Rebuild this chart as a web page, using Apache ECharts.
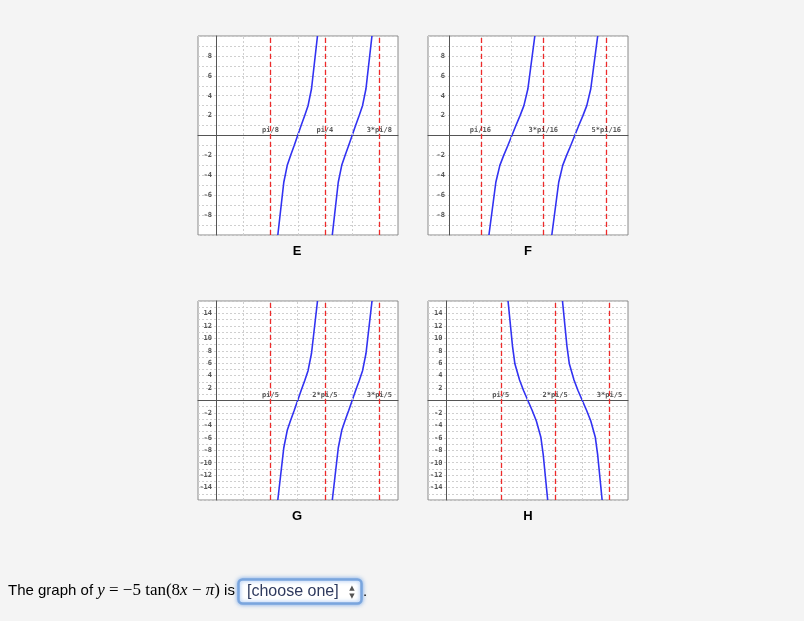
<!DOCTYPE html>
<html>
<head>
<meta charset="utf-8">
<script src="https://cdn.jsdelivr.net/npm/echarts@6.0.0/dist/echarts.min.js"></script>
<style>
html,body{margin:0;padding:0;background:#f4f4f4;}
#c{width:804px;height:621px;}
</style>
</head>
<body>
<div id="c"></div>
<script>
// ---------------- data ----------------
const PI = Math.PI;
// panel E
const E_b1_x = [0.446, 0.489, 0.514, 0.538, 0.564, 0.589, 0.614, 0.640, 0.664, 0.689, 0.732];
const E_b1_y = [-10, -4.7, -3, -2, -1, 0, 1, 2, 3, 4.7, 10];
const E_b2_x = [0.839, 0.882, 0.907, 0.931, 0.957, 0.982, 1.007, 1.033, 1.057, 1.082, 1.125];
const E_b2_y = [-10, -4.7, -3, -2, -1, 0, 1, 2, 3, 4.7, 10];
// panel F
const F_b1_x = [0.250, 0.293, 0.318, 0.342, 0.368, 0.393, 0.418, 0.444, 0.468, 0.493, 0.536];
const F_b1_y = [-10, -4.7, -3, -2, -1, 0, 1, 2, 3, 4.7, 10];
const F_b2_x = [0.642, 0.685, 0.710, 0.734, 0.760, 0.785, 0.810, 0.836, 0.860, 0.885, 0.928];
const F_b2_y = [-10, -4.7, -3, -2, -1, 0, 1, 2, 3, 4.7, 10];
// panel G
const G_b1_x = [0.713, 0.782, 0.822, 0.860, 0.902, 0.942, 0.982, 1.024, 1.062, 1.102, 1.171];
const G_b1_y = [-16, -7.6, -4.8, -3.2, -1.6, 0, 1.6, 3.2, 4.8, 7.6, 16];
const G_b2_x = [1.342, 1.411, 1.451, 1.489, 1.531, 1.571, 1.611, 1.653, 1.691, 1.731, 1.800];
const G_b2_y = [-16, -7.6, -4.8, -3.2, -1.6, 0, 1.6, 3.2, 4.8, 7.6, 16];
// panel H
const H_b1_x = [0.713, 0.764, 0.792, 0.846, 0.892, 0.942, 0.992, 1.040, 1.092, 1.120, 1.171];
const H_b1_y = [16, 8.8, 5.9, 3.3, 1.6, 0, -1.6, -3.3, -5.9, -8.8, -16];
const H_b2_x = [1.342, 1.393, 1.421, 1.475, 1.521, 1.571, 1.621, 1.669, 1.721, 1.749, 1.800];
const H_b2_y = [16, 8.8, 5.9, 3.3, 1.6, 0, -1.6, -3.3, -5.9, -8.8, -16];

// tick labels / asymptotes
const E_xticks = [PI/8, PI/4, 3*PI/8];
const E_xlabels = ['pi/8', 'pi/4', '3*pi/8'];
const F_xticks = [PI/16, 3*PI/16, 5*PI/16];
const F_xlabels = ['pi/16', '3*pi/16', '5*pi/16'];
const GH_xticks = [PI/5, 2*PI/5, 3*PI/5];
const GH_xlabels = ['pi/5', '2*pi/5', '3*pi/5'];
const EF_yticks = [-8, -6, -4, -2, 2, 4, 6, 8];
const GH_yticks = [-14, -12, -10, -8, -6, -4, -2, 2, 4, 6, 8, 10, 12, 14];
// vertical grid lines
const E_vgrid = [1, 2, 3, 4, 5, 6].map(k => k * PI / 16);
const F_vgrid = [1, 2, 3, 4, 5].map(k => k * PI / 16);
const GH_vgrid = [1, 2, 3, 4, 5, 6].map(k => k * PI / 10);
const panelNames = ['E', 'F', 'G', 'H'];

// ---------------- layout ----------------
const panels = [
  {box:{left:198, top:36, width:200, height:199}, xmin:-0.13, xmax:1.313, ymax:10,
   xt:E_xticks, xl:E_xlabels, yt:EF_yticks, vg:E_vgrid,
   br:[[E_b1_x,E_b1_y],[E_b2_x,E_b2_y]], lab:[297,251]},
  {box:{left:428, top:36, width:200, height:199}, xmin:-0.13, xmax:1.117, ymax:10,
   xt:F_xticks, xl:F_xlabels, yt:EF_yticks, vg:F_vgrid,
   br:[[F_b1_x,F_b1_y],[F_b2_x,F_b2_y]], lab:[528,251]},
  {box:{left:198, top:301, width:200, height:199}, xmin:-0.208, xmax:2.10, ymax:16,
   xt:GH_xticks, xl:GH_xlabels, yt:GH_yticks, vg:GH_vgrid,
   br:[[G_b1_x,G_b1_y],[G_b2_x,G_b2_y]], lab:[297,516]},
  {box:{left:428, top:301, width:200, height:199}, xmin:-0.212, xmax:2.099, ymax:16,
   xt:GH_xticks, xl:GH_xlabels, yt:GH_yticks, vg:GH_vgrid,
   br:[[H_b1_x,H_b1_y],[H_b2_x,H_b2_y]], lab:[528,516]}
];

const grids = [], xAxes = [], yAxes = [], series = [], graphics = [];
const tickFont = {fontSize: 7, fontFamily: 'DejaVu Sans Mono', fontWeight: 'bold', color: '#2a2a2a'};

panels.forEach((p, i) => {
  grids.push(Object.assign({show:true, backgroundColor:'#fff', borderColor:'#8a8a8a', borderWidth:1}, p.box));
  xAxes.push({
    type:'value', gridIndex:i, min:p.xmin, max:p.xmax,
    axisLine:{show:true, onZero:true, lineStyle:{color:'#555', width:1}},
    axisTick:{show:false}, splitLine:{show:false}, axisLabel:{show:false}
  });
  yAxes.push({
    type:'value', gridIndex:i, min:-p.ymax, max:p.ymax, interval:1,
    axisLine:{show:true, onZero:true, lineStyle:{color:'#555', width:1}},
    axisTick:{show:false}, axisLabel:{show:false},
    splitLine:{show:true, lineStyle:{color:'#cfcfcf', type:[2,2], width:1}}
  });
  // vertical grid lines
  series.push({
    type:'line', xAxisIndex:i, yAxisIndex:i, data:[], silent:true, z:1,
    markLine:{silent:true, symbol:['none','none'], label:{show:false},
      lineStyle:{color:'#cfcfcf', type:[2,2], width:1},
      data:p.vg.map(v => ({xAxis:v}))}
  });
  // asymptotes
  series.push({
    type:'line', xAxisIndex:i, yAxisIndex:i, data:[], silent:true, z:3,
    markLine:{silent:true, symbol:['none','none'], label:{show:false},
      lineStyle:{color:'#ee2a2a', type:[5,3], width:1.3},
      data:p.xt.map(v => ({xAxis:v}))}
  });
  // curve branches
  p.br.forEach(([xs, ys]) => {
    series.push({
      type:'line', xAxisIndex:i, yAxisIndex:i, z:4, showSymbol:false, symbol:'none',
      clip:true, smooth:false,
      lineStyle:{color:'#3232f2', width:1.6},
      data:xs.map((x, k) => [x, ys[k]])
    });
  });
  // x tick labels at y = 0
  series.push({
    type:'scatter', xAxisIndex:i, yAxisIndex:i, z:5, symbolSize:0, silent:true,
    data:p.xt.map((v, k) => ({value:[v, 0], name:p.xl[k]})),
    label:Object.assign({show:true, position:'top', distance:2, formatter:'{b}'}, tickFont)
  });
  // y tick labels at x = 0
  series.push({
    type:'scatter', xAxisIndex:i, yAxisIndex:i, z:5, symbolSize:0, silent:true,
    data:p.yt.map(v => ({value:[0, v], name:String(v)})),
    label:Object.assign({show:true, position:'left', distance:4, formatter:'{b}'}, tickFont)
  });
  graphics.push({type:'text', x:p.lab[0], y:p.lab[1],
    style:{text:panelNames[i], fontSize:13, fontWeight:'bold', fontFamily:'Liberation Sans',
      fill:'#000', align:'center', verticalAlign:'middle'}});
});

// question line
graphics.push({type:'text', x:8, y:591,
  style:{
    text:'{a|The graph of }{m|y}{b| = −5 tan(8}{m|x}{b| − }{m|π}{b|)}{a| is}',
    verticalAlign:'middle',
    rich:{
      a:{fontFamily:'Liberation Sans', fontSize:15, fill:'#000'},
      m:{fontFamily:'Liberation Serif', fontStyle:'italic', fontSize:17, fill:'#000'},
      b:{fontFamily:'Liberation Serif', fontSize:17, fill:'#000'}
    }
  }});
graphics.push({type:'rect', shape:{x:238.5, y:579.5, width:123, height:24, r:4},
  style:{fill:'#fff', stroke:'#7aa5dd', lineWidth:2.5, shadowBlur:4, shadowColor:'rgba(90,150,230,0.7)'}});
graphics.push({type:'text', x:247, y:592,
  style:{text:'[choose one]', fontFamily:'Liberation Sans', fontSize:16, fill:'#2e3a5e', verticalAlign:'middle'}});
graphics.push({type:'text', x:352, y:588.5,
  style:{text:'▲', fontFamily:'DejaVu Sans', fontSize:7, fill:'#555', align:'center', verticalAlign:'middle'}});
graphics.push({type:'text', x:352, y:596,
  style:{text:'▼', fontFamily:'DejaVu Sans', fontSize:7, fill:'#555', align:'center', verticalAlign:'middle'}});
graphics.push({type:'text', x:363, y:592,
  style:{text:'.', fontFamily:'Liberation Sans', fontSize:15, fill:'#000', verticalAlign:'middle'}});

const chart = echarts.init(document.getElementById('c'));
chart.setOption({
  backgroundColor:'#f4f4f4',
  animation:false,
  grid:grids, xAxis:xAxes, yAxis:yAxes, series:series, graphic:graphics
});
</script>
</body>
</html>
